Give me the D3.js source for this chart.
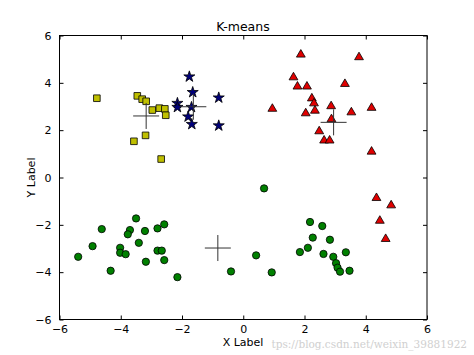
<!DOCTYPE html>
<html><head><meta charset="utf-8">
<script src="https://cdn.jsdelivr.net/npm/d3@7"></script>
<style>body{margin:0;background:#fff}svg{display:block}</style>
</head><body>
<script>
const xTicks = [-6,-4,-2,0,2,4,6];
const yTicks = [-6,-4,-2,0,2,4,6];
const yellowX = [-4.78,-3.46,-3.30,-3.17,-2.97,-2.74,-2.56,-2.53,-3.19,-3.57,-2.68];
const yellowY = [3.35,3.45,3.31,3.22,2.85,2.93,2.90,2.63,1.78,1.53,0.78];
const blueX = [-1.76,-1.65,-0.80,-2.15,-2.15,-1.69,-1.80,-1.68,-0.80];
const blueY = [4.26,3.60,3.37,3.14,2.97,2.97,2.57,2.25,2.19];
const redX = [1.88,3.78,1.64,1.77,2.08,3.32,2.24,2.31,2.34,2.04,2.87,0.95,3.53,4.19,2.88,2.48,2.64,2.82,4.19,4.35,4.83,4.46,4.65];
const redY = [5.22,5.11,4.26,3.87,3.87,3.98,3.37,3.16,2.85,2.74,3.04,2.93,2.78,2.97,2.49,1.98,1.59,1.59,1.12,-0.84,-1.15,-1.80,-2.57];
const greenX = [-3.50,-2.58,-4.62,-3.70,-2.80,-3.77,-3.21,-4.92,-3.41,-4.02,-4.02,-3.84,-2.80,-2.66,-5.39,-3.18,-2.58,-4.33,-2.15,-0.40,
  0.68,2.18,2.58,2.27,2.83,2.11,1.85,2.62,3.35,0.42,2.94,3.03,3.08,3.16,3.47,0.93];
const greenY = [-1.73,-1.98,-2.18,-2.22,-2.15,-2.40,-2.26,-2.90,-2.76,-2.97,-3.18,-3.24,-3.09,-3.09,-3.35,-3.56,-3.49,-3.94,-4.21,-3.97,
  -0.46,-1.88,-2.05,-2.54,-2.63,-2.97,-3.15,-3.23,-3.16,-3.29,-3.35,-3.62,-3.81,-3.98,-3.94,-4.01];
const centerX = [-3.17,-1.63,2.95,-0.83];
const centerY = [2.60,2.99,2.33,-2.98];

const W=474,H=355;
const svg=d3.select("body").append("svg").attr("width",W).attr("height",H);
const x=d3.scaleLinear().domain([-6,6]).range([59.5,427]);
const y=d3.scaleLinear().domain([-6,6]).range([319.5,35.5]);
const font="DejaVu Sans";

// watermark (visible part, right of the X label)
svg.append("text").attr("x",467).attr("y",348).attr("text-anchor","end")
  .attr("font-family","DejaVu Serif").attr("font-size",10.5).attr("fill","#d0d0d0")
  .text("tps://blog.csdn.net/weixin_39881922");

const g=svg.append("g");
function pts(xs,ys){return xs.map((v,i)=>[v,ys[i]]);}
const sym=(type,size)=>d3.symbol().type(type).size(size)();
function draw(data,path,fill){
  g.selectAll(null).data(data).enter().append("path")
    .attr("d",path).attr("transform",d=>`translate(${x(d[0])},${y(d[1])})`)
    .attr("fill",fill).attr("stroke","#000").attr("stroke-width",0.8);
}
draw(pts(greenX,greenY),sym(d3.symbolCircle,42),"#008000");
draw(pts(yellowX,yellowY),sym(d3.symbolSquare,44),"#bfbf00");
const tri=(()=>{const s=4.2;return `M0,${-s*1.05}L${s*1.05},${s*0.75}L${-s*1.05},${s*0.75}Z`;})();
draw(pts(redX,redY),tri,"#e00000");
draw(pts(blueX,blueY),sym(d3.symbolStar,38),"#00007a");

// centroids
const cs=13;
g.selectAll(null).data(pts(centerX,centerY)).enter().append("path")
  .attr("d",`M${-cs},0H${cs}M0,${-cs}V${cs}`)
  .attr("transform",d=>`translate(${x(d[0])},${y(d[1])})`)
  .attr("stroke","#333").attr("stroke-width",1).attr("fill","none");

// frame
svg.append("rect").attr("x",x(-6)).attr("y",y(6)).attr("width",x(6)-x(-6)).attr("height",y(-6)-y(6))
  .attr("fill","none").attr("stroke","#000").attr("stroke-width",1);

const fmt=d=>d<0?"\u2212"+(-d):d;
const axB=d3.axisBottom(x).tickValues(xTicks).tickSize(-4).tickPadding(6).tickFormat(fmt);
const axT=d3.axisTop(x).tickValues(xTicks).tickSize(-4).tickFormat("");
const axL=d3.axisLeft(y).tickValues(yTicks).tickSize(-4).tickPadding(8).tickFormat(fmt);
const axR=d3.axisRight(y).tickValues(yTicks).tickSize(-4).tickFormat("");
function styleAx(sel){sel.select(".domain").remove();sel.selectAll("line").attr("stroke","#000");
  sel.selectAll("text").attr("font-family",font).attr("font-size",11).attr("fill","#000");}
svg.append("g").attr("transform",`translate(0,${y(-6)})`).call(axB).call(styleAx);
svg.append("g").attr("transform",`translate(0,${y(6)})`).call(axT).call(styleAx);
svg.append("g").attr("transform",`translate(${x(-6)},0)`).call(axL).call(styleAx);
svg.append("g").attr("transform",`translate(${x(6)},0)`).call(axR).call(styleAx);

svg.append("text").attr("x",243).attr("y",31).attr("text-anchor","middle")
  .attr("font-family",font).attr("font-size",12.5).text("K-means");
svg.append("text").attr("x",243).attr("y",346).attr("text-anchor","middle")
  .attr("font-family",font).attr("font-size",11).text("X Label");
svg.append("text").attr("transform",`translate(35,${(y(0))}) rotate(-90)`).attr("text-anchor","middle")
  .attr("font-family",font).attr("font-size",11).text("Y Label");
</script>
</body></html>
